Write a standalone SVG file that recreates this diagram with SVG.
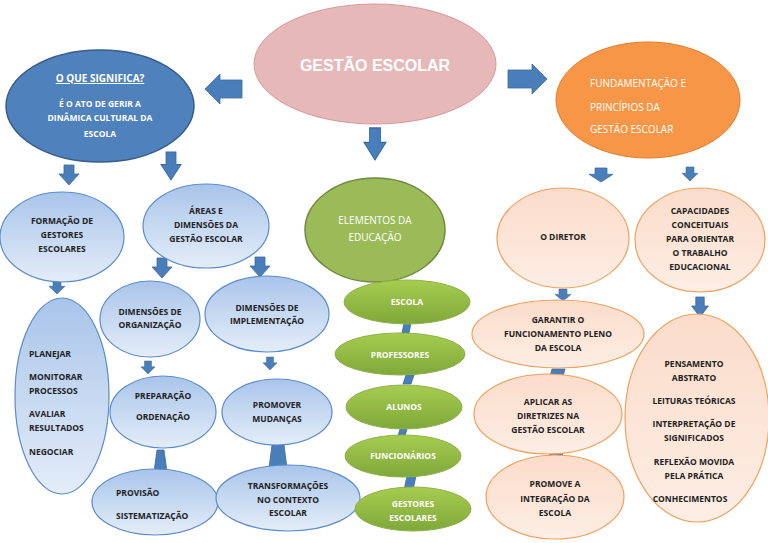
<svg xmlns="http://www.w3.org/2000/svg" width="768" height="543" viewBox="0 0 768 543">
<defs>
<linearGradient id="gb" x1="0" y1="0" x2="0" y2="1"><stop offset="0" stop-color="#a9c4ea"/><stop offset="0.5" stop-color="#c6d9f1"/><stop offset="1" stop-color="#e4edf9"/></linearGradient>
<linearGradient id="gg" x1="0" y1="0" x2="0" y2="1"><stop offset="0" stop-color="#a6cc4f"/><stop offset="1" stop-color="#7fa83a"/></linearGradient>
<linearGradient id="go" x1="0" y1="0" x2="0" y2="1"><stop offset="0" stop-color="#fbdcca"/><stop offset="1" stop-color="#fdeee4"/></linearGradient>
<path id="ad" d="M-5,0 H5 V9 H10 L0,20 L-10,9 H-5 Z"/>
</defs>
<style>
text{font-family:"Open Sans","Liberation Sans",sans-serif;font-weight:bold;font-size:8.5px;text-anchor:middle;fill:#222}
.w{fill:#fff}
.lb{fill:url(#gb);stroke:#5b8bc9;stroke-width:1.2}
.gr{fill:url(#gg);stroke:#8fb04a;stroke-width:1}
.or{fill:url(#go);stroke:#f0a060;stroke-width:1.2}
.ar{fill:#4a7ebb;stroke:#3a6aa0;stroke-width:0.8}
</style>
<rect width="768" height="543" fill="#fff"/>
<g id="connectors">
<path class="ar" d="M242,80 V98 H220 V104 L205,89 L220,74 V80 Z"/>
<path class="ar" d="M508,70 V88 H532 V94 L547,79 L532,64 V70 Z"/>
<use href="#ad" class="ar" transform="translate(375,128) scale(1.1,1.6)"/>
<use href="#ad" class="ar" transform="translate(69,165)"/>
<use href="#ad" class="ar" transform="translate(171,152) scale(1,1.4)"/>
<use href="#ad" class="ar" transform="translate(162,258)"/>
<use href="#ad" class="ar" transform="translate(260,257)"/>
<use href="#ad" class="ar" transform="translate(57,280) scale(0.8,0.7)"/>
<use href="#ad" class="ar" transform="translate(400,265) scale(0.8,0.6)"/>
<use href="#ad" class="ar" transform="translate(601,168) scale(1.2,0.7)"/>
<use href="#ad" class="ar" transform="translate(690,167) scale(0.8,0.7)"/>
<use href="#ad" class="ar" transform="translate(563,289) scale(0.8,0.6)"/>
<use href="#ad" class="ar" transform="translate(700,297) scale(0.85,1)"/>
<use href="#ad" class="ar" transform="translate(148,361) scale(0.7,0.65)"/>
<use href="#ad" class="ar" transform="translate(270,357) scale(0.7,0.65)"/>
<path class="ar" d="M157,450 H164 L167,472 H154 Z"/>
<path class="ar" d="M272,445 H284 L287,468 H269 Z"/>
<path class="ar" d="M404,323 H411 L409,333 H402 Z"/>
<path class="ar" d="M406,375 H414 L411,384 H403 Z"/>
<path class="ar" d="M400,429 H407 L405,436 H398 Z"/>
<path class="ar" d="M407,476 H416 L413,490 H404 Z"/>
<path class="ar" d="M552,369 H565 L562,380 H549 Z"/>
<path class="ar" d="M550,451 H562 L563,459 H549 Z"/>
</g>
<g id="gestao"><ellipse cx="375" cy="64" rx="121" ry="60" fill="#e6b9b8" stroke="#d99795"/><text class="w" x="375" y="71" style="font-size:16px;font-family:'Liberation Sans',sans-serif">GESTÃO ESCOLAR</text></g>
<g id="significa"><ellipse cx="100" cy="106" rx="94" ry="56" fill="#4f81bd" stroke="#385d8a" stroke-width="1.5"/>
<text class="w" x="100" y="82" style="font-size:10px;text-decoration:underline">O QUE SIGNIFICA?</text>
<text class="w" x="100" y="107">É O ATO DE GERIR A</text><text class="w" x="100" y="121">DINÂMICA CULTURAL DA</text><text class="w" x="100" y="137">ESCOLA</text></g>
<g id="fundamentacao"><ellipse cx="648" cy="100" rx="92" ry="58" fill="#f79646" stroke="#e07b2a"/>
<text class="w" x="590" y="87" style="text-anchor:start;font-weight:normal;font-size:10px">FUNDAMENTAÇÃO E</text>
<text class="w" x="590" y="111" style="text-anchor:start;font-weight:normal;font-size:10px">PRINCÍPIOS DA</text>
<text class="w" x="590" y="133" style="text-anchor:start;font-weight:normal;font-size:10px">GESTÃO ESCOLAR</text></g>
<g id="formacao"><ellipse class="lb" cx="62" cy="237" rx="62" ry="45"/><text x="62" y="224">FORMAÇÃO DE</text><text x="62" y="238">GESTORES</text><text x="62" y="252">ESCOLARES</text></g>
<g id="areas"><ellipse class="lb" cx="206" cy="226" rx="63" ry="42"/><text x="206" y="214">ÁREAS E</text><text x="206" y="228">DIMENSÕES DA</text><text x="206" y="242">GESTÃO ESCOLAR</text></g>
<g id="elementos"><ellipse cx="375" cy="230" rx="70" ry="52" fill="#9bbb59" stroke="#71893f" stroke-width="1.5"/><text class="w" x="375" y="224" style="font-size:10px;font-weight:normal">ELEMENTOS DA</text><text class="w" x="375" y="241" style="font-size:10px;font-weight:normal">EDUCAÇÃO</text></g>
<g id="lista1"><ellipse class="lb" cx="62" cy="396" rx="47" ry="98"/>
<text x="29" y="357" style="text-anchor:start">PLANEJAR</text><text x="29" y="380" style="text-anchor:start">MONITORAR</text><text x="29" y="394" style="text-anchor:start">PROCESSOS</text><text x="29" y="417" style="text-anchor:start">AVALIAR</text><text x="29" y="431" style="text-anchor:start">RESULTADOS</text><text x="29" y="455" style="text-anchor:start">NEGOCIAR</text></g>
<g id="dorg"><ellipse class="lb" cx="150" cy="319" rx="50" ry="38"/><text x="150" y="315">DIMENSÕES DE</text><text x="150" y="328">ORGANIZAÇÃO</text></g>
<g id="dimp"><ellipse class="lb" cx="267" cy="314" rx="62" ry="38"/><text x="267" y="311">DIMENSÕES DE</text><text x="267" y="324">IMPLEMENTAÇÃO</text></g>
<g id="prep"><ellipse class="lb" cx="163" cy="412" rx="53" ry="36"/><text x="163" y="399">PREPARAÇÃO</text><text x="163" y="420">ORDENAÇÃO</text></g>
<g id="promover"><ellipse class="lb" cx="277" cy="412" rx="55" ry="33"/><text x="277" y="408">PROMOVER</text><text x="277" y="422">MUDANÇAS</text></g>
<g id="provisao"><ellipse class="lb" cx="155" cy="502" rx="63" ry="33"/><text x="116" y="496" style="text-anchor:start">PROVISÃO</text><text x="116" y="519" style="text-anchor:start">SISTEMATIZAÇÃO</text></g>
<g id="transf"><ellipse class="lb" cx="288" cy="498" rx="72" ry="33"/><text x="288" y="489">TRANSFORMAÇÕES</text><text x="288" y="503">NO CONTEXTO</text><text x="288" y="516">ESCOLAR</text></g>
<g id="escola"><ellipse class="gr" cx="407" cy="302" rx="63" ry="22"/><text class="w" x="407" y="305">ESCOLA</text></g>
<g id="professores"><ellipse class="gr" cx="400" cy="354" rx="65" ry="21"/><text class="w" x="400" y="358">PROFESSORES</text></g>
<g id="alunos"><ellipse class="gr" cx="404" cy="407" rx="58" ry="22"/><text class="w" x="404" y="410">ALUNOS</text></g>
<g id="funcionarios"><ellipse class="gr" cx="403" cy="456" rx="58" ry="21"/><text class="w" x="403" y="459">FUNCIONÁRIOS</text></g>
<g id="gestores"><ellipse class="gr" cx="413" cy="509" rx="58" ry="22"/><text class="w" x="413" y="507">GESTORES</text><text class="w" x="413" y="521">ESCOLARES</text></g>
<g id="diretor"><ellipse class="or" cx="563" cy="238" rx="66" ry="50"/><text x="563" y="240">O DIRETOR</text></g>
<g id="capacidades"><ellipse class="or" cx="700" cy="240" rx="65" ry="52"/><text x="700" y="214">CAPACIDADES</text><text x="700" y="228">CONCEITUAIS</text><text x="700" y="242">PARA ORIENTAR</text><text x="700" y="256">O TRABALHO</text><text x="700" y="270">EDUCACIONAL</text></g>
<g id="garantir"><ellipse class="or" cx="558" cy="334" rx="86" ry="34"/><text x="558" y="323">GARANTIR O</text><text x="558" y="337">FUNCIONAMENTO PLENO</text><text x="558" y="351">DA ESCOLA</text></g>
<g id="aplicar"><ellipse class="or" cx="548" cy="414" rx="74" ry="40"/><text x="548" y="405">APLICAR AS</text><text x="548" y="419">DIRETRIZES NA</text><text x="548" y="433">GESTÃO ESCOLAR</text></g>
<g id="promove"><ellipse class="or" cx="555" cy="497" rx="69" ry="42"/><text x="555" y="487">PROMOVE A</text><text x="555" y="502">INTEGRAÇÃO DA</text><text x="555" y="516">ESCOLA</text></g>
<g id="lista2"><ellipse class="or" cx="697" cy="418" rx="72" ry="104"/>
<text x="694" y="367">PENSAMENTO</text><text x="694" y="381">ABSTRATO</text><text x="694" y="404">LEITURAS TEÓRICAS</text><text x="694" y="427">INTERPRETAÇÃO DE</text><text x="694" y="441">SIGNIFICADOS</text><text x="694" y="465">REFLEXÃO MOVIDA</text><text x="694" y="479">PELA PRÁTICA</text><text x="690" y="502">CONHECIMENTOS</text></g>
</svg>
